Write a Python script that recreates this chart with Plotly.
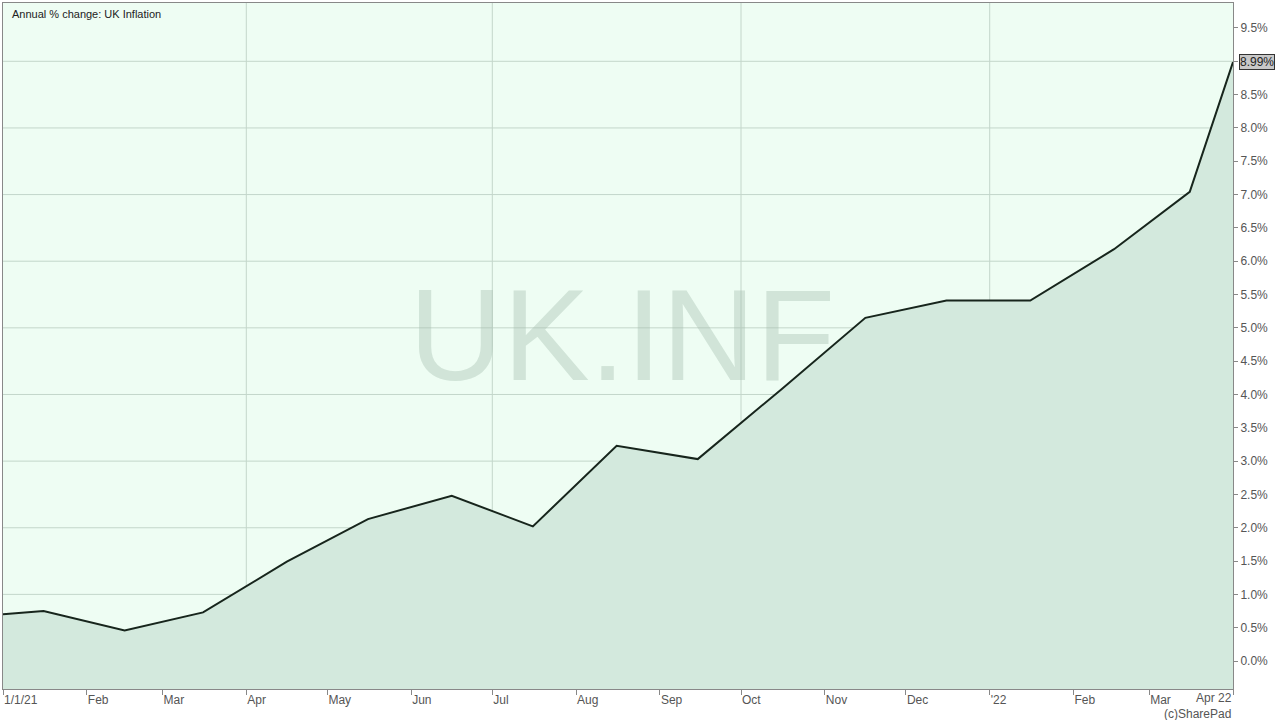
import plotly.graph_objects as go

# UK CPI, annual % change
dates = ["2021-01-01", "2021-01-16", "2021-02-15", "2021-03-16", "2021-04-16",
         "2021-05-16", "2021-06-16", "2021-07-16", "2021-08-16", "2021-09-15",
         "2021-10-16", "2021-11-16", "2021-12-16", "2022-01-16", "2022-02-16",
         "2022-03-16", "2022-04-01"]
inflation = [0.70, 0.75, 0.46, 0.73, 1.49,
             2.13, 2.48, 2.02, 3.23, 3.03,
             4.08, 5.15, 5.41, 5.41, 6.18,
             7.04, 8.99]

month_ticks = ["2021-01-01", "2021-02-01", "2021-03-01", "2021-04-01", "2021-05-01",
               "2021-06-01", "2021-07-01", "2021-08-01", "2021-09-01", "2021-10-01",
               "2021-11-01", "2021-12-01", "2022-01-01", "2022-02-01", "2022-03-01",
               "2022-04-01"]
month_labels = ["1/1/21", "Feb", "Mar", "Apr", "May", "Jun", "Jul", "Aug", "Sep",
                "Oct", "Nov", "Dec", "'22", "Feb", "Mar", ""]
last_label = "Apr 22"
quarter_grid = ["2021-04-01", "2021-07-01", "2021-10-01", "2022-01-01"]
pct_ticks = [i * 0.5 for i in range(20)]
pct_labels = ["%.1f%%" % v for v in pct_ticks]
pct_grid = list(range(10))

Y_MIN, Y_MAX = -0.42, 9.875
X_MIN, X_MAX = "2021-01-01", "2022-04-01"

fig = go.Figure()

# baseline so the fill reaches the bottom of the plot
fig.add_trace(go.Scatter(x=dates, y=[Y_MIN] * len(dates), mode="lines",
                         line=dict(width=0), hoverinfo="skip", showlegend=False))
fig.add_trace(go.Scatter(x=dates, y=inflation, mode="lines", fill="tonexty",
                         fillcolor="#d3e9dd", line=dict(color="#17251c", width=2),
                         name="UK Inflation", showlegend=False))

for g in pct_grid:
    fig.add_hline(y=g, line=dict(color="#c3d6ca", width=1), layer="below")
for q in quarter_grid:
    fig.add_vline(x=q, line=dict(color="#c3d6ca", width=1), layer="below")

fig.update_layout(
    width=1280, height=720,
    margin=dict(l=3, r=47, t=3, b=31),
    paper_bgcolor="white",
    plot_bgcolor="#eefdf3",
    font=dict(family="Liberation Sans, Arial, sans-serif", size=12, color="#555555"),
    showlegend=False,
    xaxis=dict(
        type="date", range=[X_MIN, X_MAX], automargin=False,
        tickvals=month_ticks, ticktext=month_labels,
        ticks="outside", ticklen=5, tickcolor="#888888",
        ticklabelposition="outside right",
        showgrid=False, zeroline=False,
        showline=True, linecolor="#888888", linewidth=1, mirror=True,
    ),
    yaxis=dict(
        side="right", range=[Y_MIN, Y_MAX], automargin=False,
        tickvals=pct_ticks, ticktext=pct_labels,
        ticks="outside", ticklen=4, tickcolor="#888888",
        showgrid=False, zeroline=False,
        showline=True, linecolor="#888888", linewidth=1, mirror=True,
    ),
)

# watermark
fig.add_annotation(text="UK.INF", xref="paper", yref="paper", x=0.503, y=0.516,
                   showarrow=False,
                   font=dict(family="Liberation Sans, Arial, sans-serif", size=130,
                             color="rgba(165,190,175,0.4)"))

fig.add_annotation(text="Annual % change: UK Inflation", xref="paper", yref="paper",
                   x=0.006, y=0.995, xanchor="left", yanchor="top", showarrow=False,
                   font=dict(size=11, color="#222222"))

# last value label
fig.add_annotation(text="8.99%", x=dates[-1], y=inflation[-1], xanchor="left",
                   xshift=6, showarrow=False, bgcolor="#c8c8c8",
                   bordercolor="#333333", borderwidth=1, borderpad=0,
                   font=dict(size=12, color="#222222"))

# last month label sits to the left of its tick
fig.add_annotation(text=last_label, x=month_ticks[-1], yref="paper", y=0.0,
                   xanchor="right", yanchor="top", xshift=1, showarrow=False,
                   font=dict(size=12, color="#555555"))

fig.add_annotation(text="(c)SharePad", xref="paper", yref="paper", x=1.0, y=-0.023,
                   xanchor="right", yanchor="top", showarrow=False,
                   font=dict(size=12, color="#555555"))

# drop the browser's default body margin so the figure sits at the page corner
fig.write_html("out.html", config={"displayModeBar": False},
               post_script="document.body.style.margin='0';")
